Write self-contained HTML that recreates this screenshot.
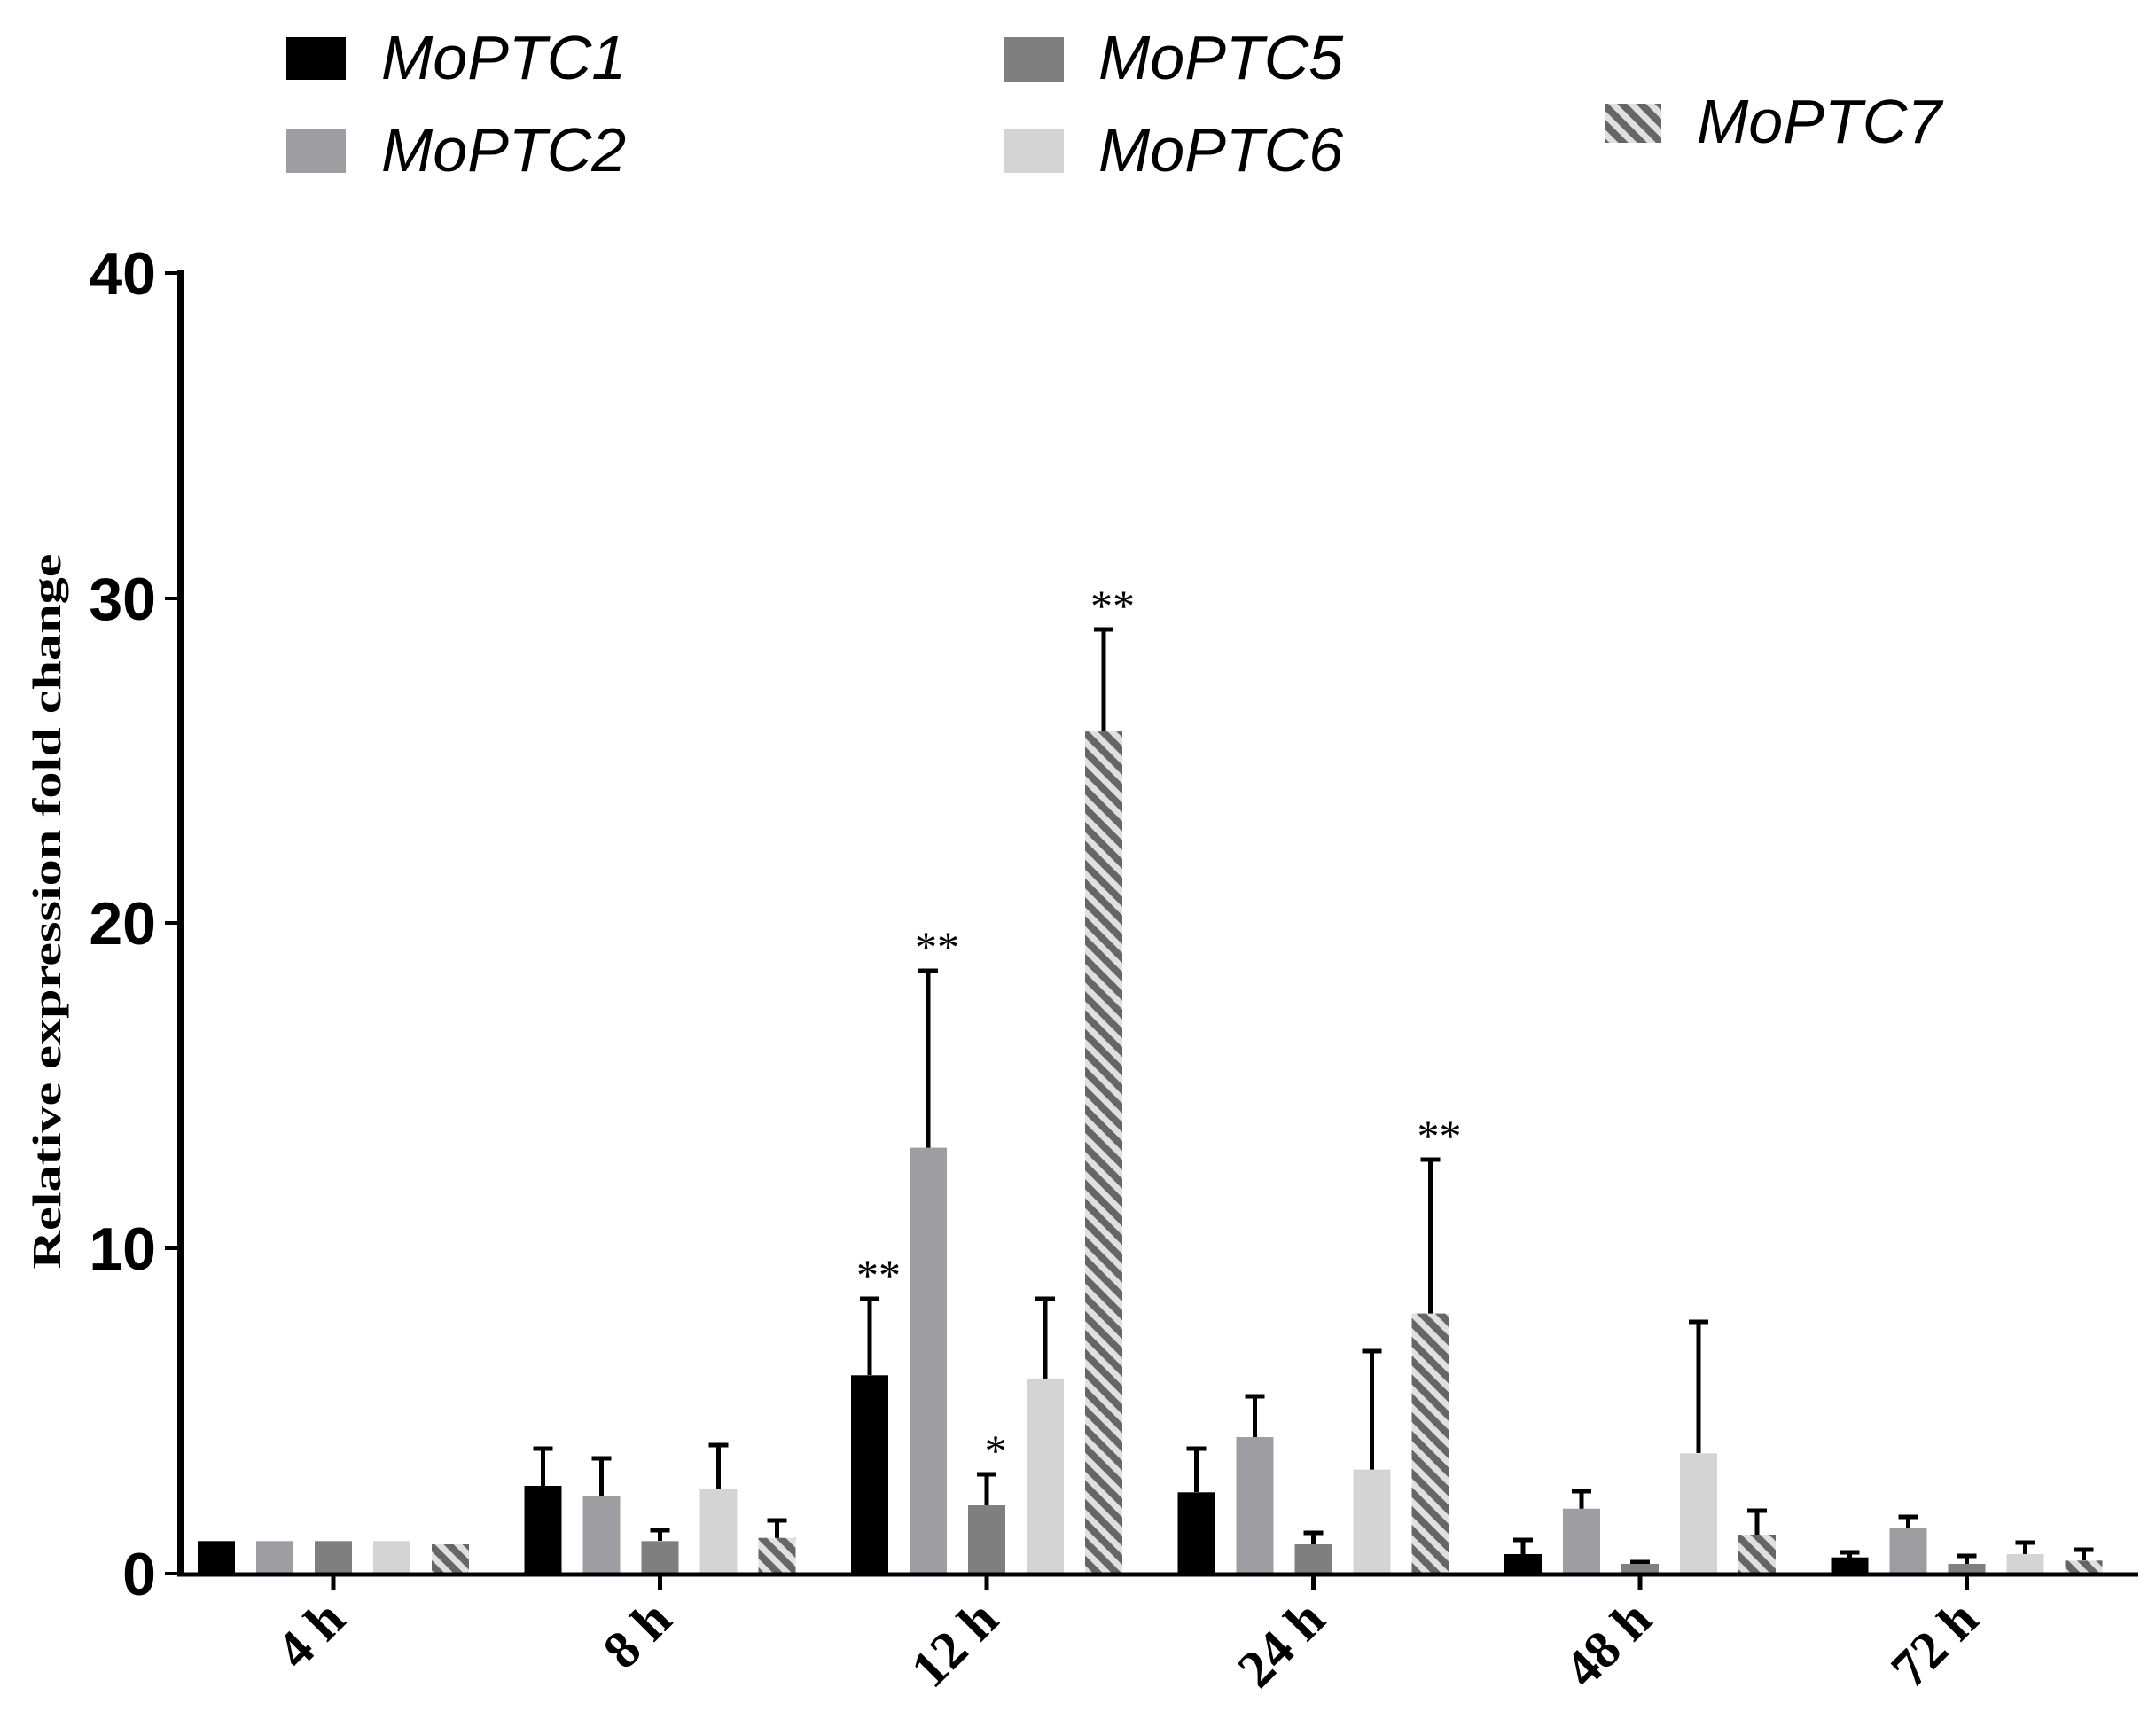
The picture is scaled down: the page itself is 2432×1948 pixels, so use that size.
<!DOCTYPE html>
<html><head><meta charset="utf-8"><style>html,body{margin:0;padding:0;background:#fff}svg{display:block}</style></head>
<body>
<svg width="2432" height="1948" viewBox="0 0 2432 1948" xmlns="http://www.w3.org/2000/svg">
<defs>
<pattern id="h" patternUnits="userSpaceOnUse" width="15" height="15" patternTransform="rotate(45)">
<rect width="15" height="15" fill="#e0e0e0"/><rect width="15" height="8" fill="#666"/>
</pattern>
</defs>
<g font-family="Liberation Sans, sans-serif" font-style="italic" font-size="70">
<rect x="323" y="42" width="67" height="48" fill="#000"/><text x="430" y="89">MoPTC1</text>
<rect x="323" y="145" width="67" height="50" fill="#9d9da2"/><text x="430" y="193">MoPTC2</text>
<rect x="1133" y="42" width="67" height="50" fill="#7f7f7f"/><text x="1239" y="89">MoPTC5</text>
<rect x="1133" y="145" width="67" height="50" fill="#d4d4d4"/><text x="1239" y="193">MoPTC6</text>
<rect x="1811" y="117" width="63" height="44" fill="url(#h)"/><text x="1914" y="161">MoPTC7</text>
</g>
<g font-family="Liberation Sans, sans-serif" font-weight="bold" font-size="68" text-anchor="end">
<text x="176" y="332">40</text><text x="176" y="699">30</text><text x="176" y="1065">20</text><text x="176" y="1432">10</text><text x="176" y="1799">0</text>
</g>
<text transform="translate(68,1028) rotate(-90)" text-anchor="middle" font-family="Liberation Serif, serif" font-weight="bold" font-size="46" textLength="807" lengthAdjust="spacingAndGlyphs">Relative expression fold change</text>

<g stroke="#000" stroke-width="5" fill="none">
<path d="M612.5 1676V1632M601.5 1634H623.5"/>
<path d="M678.5 1687V1643M667.5 1645H689.5"/>
<path d="M744.5 1738V1724M733.5 1726H755.5"/>
<path d="M810.5 1680V1628M799.5 1630H821.5"/>
<path d="M876.5 1735V1713M865.5 1715H887.5"/>
<path d="M981 1551V1463M970 1465H992"/>
<path d="M1047 1295V1093M1036 1095H1058"/>
<path d="M1113 1698V1661M1102 1663H1124"/>
<path d="M1179 1555V1463M1168 1465H1190"/>
<path d="M1245 825V708M1234 710H1256"/>
<path d="M1349.5 1683V1632M1338.5 1634H1360.5"/>
<path d="M1415.5 1621V1573M1404.5 1575H1426.5"/>
<path d="M1481.5 1742V1727M1470.5 1729H1492.5"/>
<path d="M1547.5 1658V1522M1536.5 1524H1558.5"/>
<path d="M1613.5 1482V1306M1602.5 1308H1624.5"/>
<path d="M1718 1753V1735M1707 1737H1729"/>
<path d="M1784 1702V1680M1773 1682H1795"/>
<path d="M1850 1764V1760M1839 1762H1861"/>
<path d="M1916 1639V1489M1905 1491H1927"/>
<path d="M1982 1731V1702M1971 1704H1993"/>
<path d="M2086.5 1757V1749M2075.5 1751H2097.5"/>
<path d="M2152.5 1724V1709M2141.5 1711H2163.5"/>
<path d="M2218.5 1764V1753M2207.5 1755H2229.5"/>
<path d="M2284.5 1753V1738M2273.5 1740H2295.5"/>
<path d="M2350.5 1760V1746M2339.5 1748H2361.5"/>
</g>

<g>
<rect x="223" y="1738.3" width="42" height="36.7" fill="#000"/>
<rect x="289" y="1738.3" width="42" height="36.7" fill="#9d9da2"/>
<rect x="355" y="1738.3" width="42" height="36.7" fill="#7f7f7f"/>
<rect x="421" y="1738.3" width="42" height="36.7" fill="#d4d4d4"/>
<rect x="487" y="1742" width="42" height="33" fill="url(#h)"/>

<rect x="591.5" y="1676" width="42" height="99" fill="#000"/>
<rect x="657.5" y="1687" width="42" height="88" fill="#9d9da2"/>
<rect x="723.5" y="1738.3" width="42" height="36.7" fill="#7f7f7f"/>
<rect x="789.5" y="1679.6" width="42" height="95.4" fill="#d4d4d4"/>
<rect x="855.5" y="1734.7" width="42" height="40.3" fill="url(#h)"/>

<rect x="960" y="1551.3" width="42" height="223.7" fill="#000"/>
<rect x="1026" y="1294.6" width="42" height="480.4" fill="#9d9da2"/>
<rect x="1092" y="1698" width="42" height="77" fill="#7f7f7f"/>
<rect x="1158" y="1554.9" width="42" height="220.1" fill="#d4d4d4"/>
<rect x="1224" y="825.1" width="42" height="949.9" fill="url(#h)"/>

<rect x="1328.5" y="1683.3" width="42" height="91.7" fill="#000"/>
<rect x="1394.5" y="1621" width="42" height="154" fill="#9d9da2"/>
<rect x="1460.5" y="1742" width="42" height="33" fill="#7f7f7f"/>
<rect x="1526.5" y="1657.6" width="42" height="117.4" fill="#d4d4d4"/>
<rect x="1592.5" y="1481.6" width="42" height="293.4" fill="url(#h)"/>

<rect x="1697" y="1753" width="42" height="22" fill="#000"/>
<rect x="1763" y="1701.7" width="42" height="73.3" fill="#9d9da2"/>
<rect x="1829" y="1764" width="42" height="11" fill="#7f7f7f"/>
<rect x="1895" y="1639.3" width="42" height="135.7" fill="#d4d4d4"/>
<rect x="1961" y="1731" width="42" height="44" fill="url(#h)"/>

<rect x="2065.5" y="1756.7" width="42" height="18.3" fill="#000"/>
<rect x="2131.5" y="1723.7" width="42" height="51.3" fill="#9d9da2"/>
<rect x="2197.5" y="1764" width="42" height="11" fill="#7f7f7f"/>
<rect x="2263.5" y="1753" width="42" height="22" fill="#d4d4d4"/>
<rect x="2329.5" y="1760.3" width="42" height="14.7" fill="url(#h)"/>
</g>

<g font-family="Liberation Serif, serif" font-size="50" text-anchor="middle">
<text x="991" y="1455">**</text>
<text x="1057" y="1085">**</text>
<text x="1123" y="1653">*</text>
<text x="1255" y="700">**</text>
<text x="1623.5" y="1298">**</text>
</g>

<g stroke="#000" fill="none">
<line x1="203.5" y1="305" x2="203.5" y2="1778" stroke-width="7"/>
<line x1="186" y1="308" x2="203" y2="308" stroke-width="4"/>
<line x1="186" y1="675" x2="203" y2="675" stroke-width="4"/>
<line x1="186" y1="1041" x2="203" y2="1041" stroke-width="4"/>
<line x1="186" y1="1408" x2="203" y2="1408" stroke-width="4"/>
<line x1="186" y1="1775" x2="203" y2="1775" stroke-width="4"/>
<line x1="200" y1="1776" x2="2412" y2="1776" stroke-width="5"/>
<path d="M376 1776V1794M744.5 1776V1794M1113 1776V1794M1481.5 1776V1794M1850 1776V1794M2218.5 1776V1794" stroke-width="5"/>
</g>

<g font-family="Liberation Serif, serif" font-weight="bold" font-size="60" text-anchor="end">
<text transform="translate(392,1830) rotate(-45)">4 h</text>
<text transform="translate(760.5,1830) rotate(-45)">8 h</text>
<text transform="translate(1129,1830) rotate(-45)">12 h</text>
<text transform="translate(1497.5,1830) rotate(-45)">24 h</text>
<text transform="translate(1866,1830) rotate(-45)">48 h</text>
<text transform="translate(2234.5,1830) rotate(-45)">72 h</text>
</g>
</svg>
</body></html>
